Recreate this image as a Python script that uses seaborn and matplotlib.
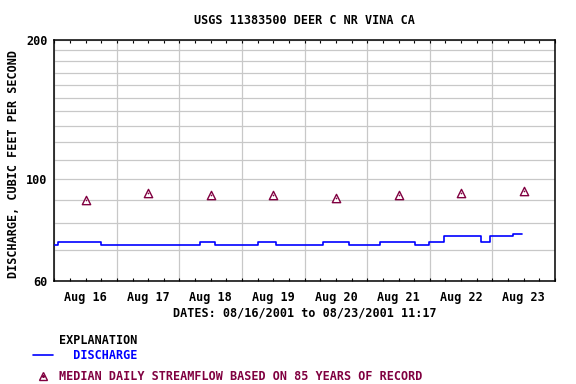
import matplotlib
matplotlib.use("Agg")
import matplotlib.pyplot as plt
import matplotlib.dates as mdates
from matplotlib.ticker import FixedLocator, NullFormatter, FuncFormatter
from matplotlib.lines import Line2D
from matplotlib.legend_handler import HandlerTuple
import pandas as pd
import seaborn as sns

# discharge (value holds until next timestamp)
flow_times = ["2001-08-16 00:00", "2001-08-16 01:30", "2001-08-16 17:45",
              "2001-08-18 07:45", "2001-08-18 13:30", "2001-08-19 06:15",
              "2001-08-19 13:00", "2001-08-20 07:00", "2001-08-20 17:00",
              "2001-08-21 04:45", "2001-08-21 18:30", "2001-08-21 23:30",
              "2001-08-22 05:15", "2001-08-22 19:30", "2001-08-22 23:15",
              "2001-08-23 07:45", "2001-08-23 11:15"]
flow_cfs = [72, 73, 72, 73, 72, 73, 72, 73, 72, 73, 72, 73, 75, 73, 75, 76, 76]

# median daily streamflow (plotted at noon)
median_days = ["2001-08-16 12:00", "2001-08-17 12:00", "2001-08-18 12:00",
               "2001-08-19 12:00", "2001-08-20 12:00", "2001-08-21 12:00",
               "2001-08-22 12:00", "2001-08-23 12:00"]
median_cfs = [90, 93, 92, 92, 91, 92, 93, 94]

y_major = [60, 100, 200]
y_minor = [70, 80, 90, 110, 120, 130, 140, 150, 160, 170, 180, 190]

BLUE = "#0000ff"
MAROON = "#800040"

sns.set_style("white")
plt.rcParams['font.family'] = ['DejaVu Sans Mono']
plt.rcParams['font.weight'] = 'bold'
plt.rcParams['font.size'] = 8.5
plt.rcParams['text.color'] = 'black'
plt.rcParams['xtick.color'] = 'black'
plt.rcParams['ytick.color'] = 'black'

flow = pd.DataFrame({'time': pd.to_datetime(flow_times), 'cfs': flow_cfs})
med = pd.DataFrame({'day': pd.to_datetime(median_days), 'cfs': median_cfs})

fig = plt.figure(figsize=(5.76, 3.84), dpi=100)
ax = fig.add_axes([54.3 / 576, 1 - 281 / 384, (555 - 54.3) / 576, (281 - 40) / 384])

sns.lineplot(data=flow, x='time', y='cfs', drawstyle='steps-post', color=BLUE,
             lw=1.2, ax=ax, zorder=3)
sns.scatterplot(data=med, x='day', y='cfs', marker='^', s=36, facecolor='white',
                edgecolor=MAROON, linewidth=1.0, ax=ax, zorder=4)
sns.scatterplot(data=med, x='day', y='cfs', marker='o', s=1.5, color=MAROON,
                linewidth=0, ax=ax, zorder=5)

ax.set_yscale('log')
ax.set_ylim(60, 200)
ax.set_xlim(pd.Timestamp("2001-08-16"), pd.Timestamp("2001-08-24"))

ax.yaxis.set_major_locator(FixedLocator(y_major))
ax.yaxis.set_major_formatter(FuncFormatter(lambda v, p: f"{v:.0f}"))
ax.yaxis.set_minor_locator(FixedLocator(y_minor))
ax.yaxis.set_minor_formatter(NullFormatter())
ax.tick_params(axis='y', which='both', length=0, pad=5)

ax.xaxis.set_major_locator(mdates.DayLocator())
ax.xaxis.set_major_formatter(NullFormatter())
ax.xaxis.set_minor_locator(mdates.HourLocator(byhour=[6, 12, 18]))
ax.xaxis.set_minor_formatter(FuncFormatter(
    lambda v, p: mdates.num2date(v).strftime('%b %d') if mdates.num2date(v).hour == 12 else ''))
ax.tick_params(axis='x', which='both', direction='in', length=2.5, width=0.8,
               top=True, bottom=True, pad=7)

ax.grid(which='major', axis='x', color='#c8c8c8', lw=0.9)
ax.grid(which='both', axis='y', color='#c8c8c8', lw=0.9)
for s in ax.spines.values():
    s.set_color('black')
    s.set_linewidth(1.1)
ax.set_xlabel('')
ax.set_ylabel('')

fig.text(304 / 576, 1 - 20 / 384, 'USGS 11383500 DEER C NR VINA CA', ha='center', va='center')
fig.text(14 / 576, 1 - 164 / 384, 'DISCHARGE, CUBIC FEET PER SECOND', rotation=90,
         ha='center', va='center')
fig.text(305 / 576, 1 - 313 / 384, 'DATES: 08/16/2001 to 08/23/2001 11:17', ha='center', va='center')
fig.text(59 / 576, 1 - 340 / 384, 'EXPLANATION', ha='left', va='center')

h_flow = Line2D([], [], color=BLUE, lw=1.2)
h_tri = Line2D([], [], marker='^', ls='none', markersize=6, mfc='white', mec=MAROON, mew=1.0)
h_dot = Line2D([], [], marker='o', ls='none', markersize=1.2, mfc=MAROON, mec=MAROON)
fig.legend(handles=[h_flow, (h_tri, h_dot)],
           labels=['  DISCHARGE', 'MEDIAN DAILY STREAMFLOW BASED ON 85 YEARS OF RECORD'],
           loc='upper left', bbox_to_anchor=(33 / 576, 1 - 349 / 384), frameon=False,
           handlelength=1.7, handletextpad=0.5, labelspacing=0.65, borderpad=0,
           borderaxespad=0, labelcolor=[BLUE, MAROON],
           handler_map={tuple: HandlerTuple(ndivide=1)})

fig.savefig('out.png', dpi=100)
